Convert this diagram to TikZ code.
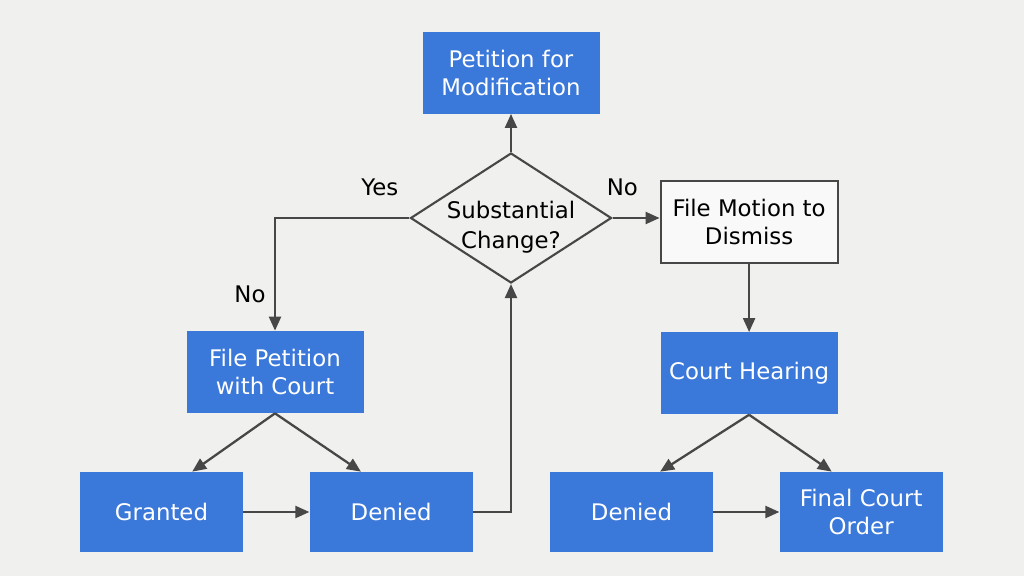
\documentclass[tikz,border=0pt]{standalone}
\usepackage{fontspec}
\setmainfont{DejaVu Sans}
\usetikzlibrary{arrows.meta,positioning,shapes.geometric,calc}
\definecolor{FLOWblue}{HTML}{3A78D9}
\definecolor{FLOWgray}{HTML}{474747}
\definecolor{FLOWback}{HTML}{F0F0EF}
\tikzset{bluebox/.style={fill=FLOWblue,text=white,align=center,inner sep=0pt,
 minimum width=3.54cm,minimum height=1.64cm,font=\fontsize{13}{16}\selectfont},
 lowbox/.style={bluebox,minimum width=3.26cm,minimum height=1.6cm},
 plainbox/.style={draw=FLOWgray,line width=1.2pt,fill=white!60!FLOWback,align=center,
 inner sep=0pt,minimum width=3.54cm,minimum height=1.64cm,font=\fontsize{13}{16}\selectfont},
 askbox/.style={diamond,draw=FLOWgray,line width=1.2pt,fill=FLOWback,align=center,
 inner sep=-0.2cm,aspect=1.5,minimum width=4.02cm,minimum height=2.6cm,
 font=\fontsize{13}{17}\selectfont},
 flowarr/.style={-{Triangle[length=2.8mm,width=2.4mm]},line width=1.3pt,draw=FLOWgray},
 flowlbl/.style={font=\fontsize{13}{15}\selectfont,inner sep=0pt}}

\begin{document}
\begin{tikzpicture}[node distance=1.32cm]
\fill[FLOWback] (0,0) rectangle (20.48,-11.52);
\useasboundingbox (0,0) rectangle (20.48,-11.52);
\node[askbox] (change) at (10.22,-4.36) {\rule{0pt}{0.72cm}Substantial\\Change?};
\node[bluebox,above=0.76cm of change] (modify) {Petition for\\Modification};
\node[plainbox,right=0.94cm of change,yshift=-0.08cm] (motion) {File Motion to\\Dismiss};
\node[bluebox,below=1.36cm of motion] (hearing) {Court Hearing};
\node[bluebox] (court) at (5.5,-7.44) {File Petition\\with Court};
\node[lowbox] (granted) at (3.23,-10.24) {Granted};
\node[lowbox,right=of granted] (denyL) {Denied};
\node[lowbox] (denyR) at (12.63,-10.24) {Denied};
\node[lowbox,right=of denyR] (final) {Final Court\\Order};
\draw[flowarr] (change.north)--(modify.south);
\draw[flowarr] (change.west) -| (court.north)
 node[flowlbl,pos=0.11,yshift=0.62cm] {Yes}
 node[flowlbl,pos=0.84,xshift=-0.5cm] {No};
\draw[flowarr] (change.east)--(change.east -| motion.west)
 node[flowlbl,pos=0.21,yshift=0.62cm] {No};
\draw[flowarr] (motion.south)--(hearing.north);
\draw[flowarr] (court.south)--($(granted.north)!0.375!(granted.north east)$);
\draw[flowarr] (court.south)--($(denyL.north)!0.37!(denyL.north west)$);
\draw[flowarr] (granted.east)--(denyL.west);
\draw[flowarr] (denyL.east) -| (change.south);
\draw[flowarr] (hearing.south)--($(denyR.north)!0.35!(denyR.north east)$);
\draw[flowarr] (hearing.south)--($(final.north)!0.36!(final.north west)$);
\draw[flowarr] (denyR.east)--(final.west);
\end{tikzpicture}
\end{document}
